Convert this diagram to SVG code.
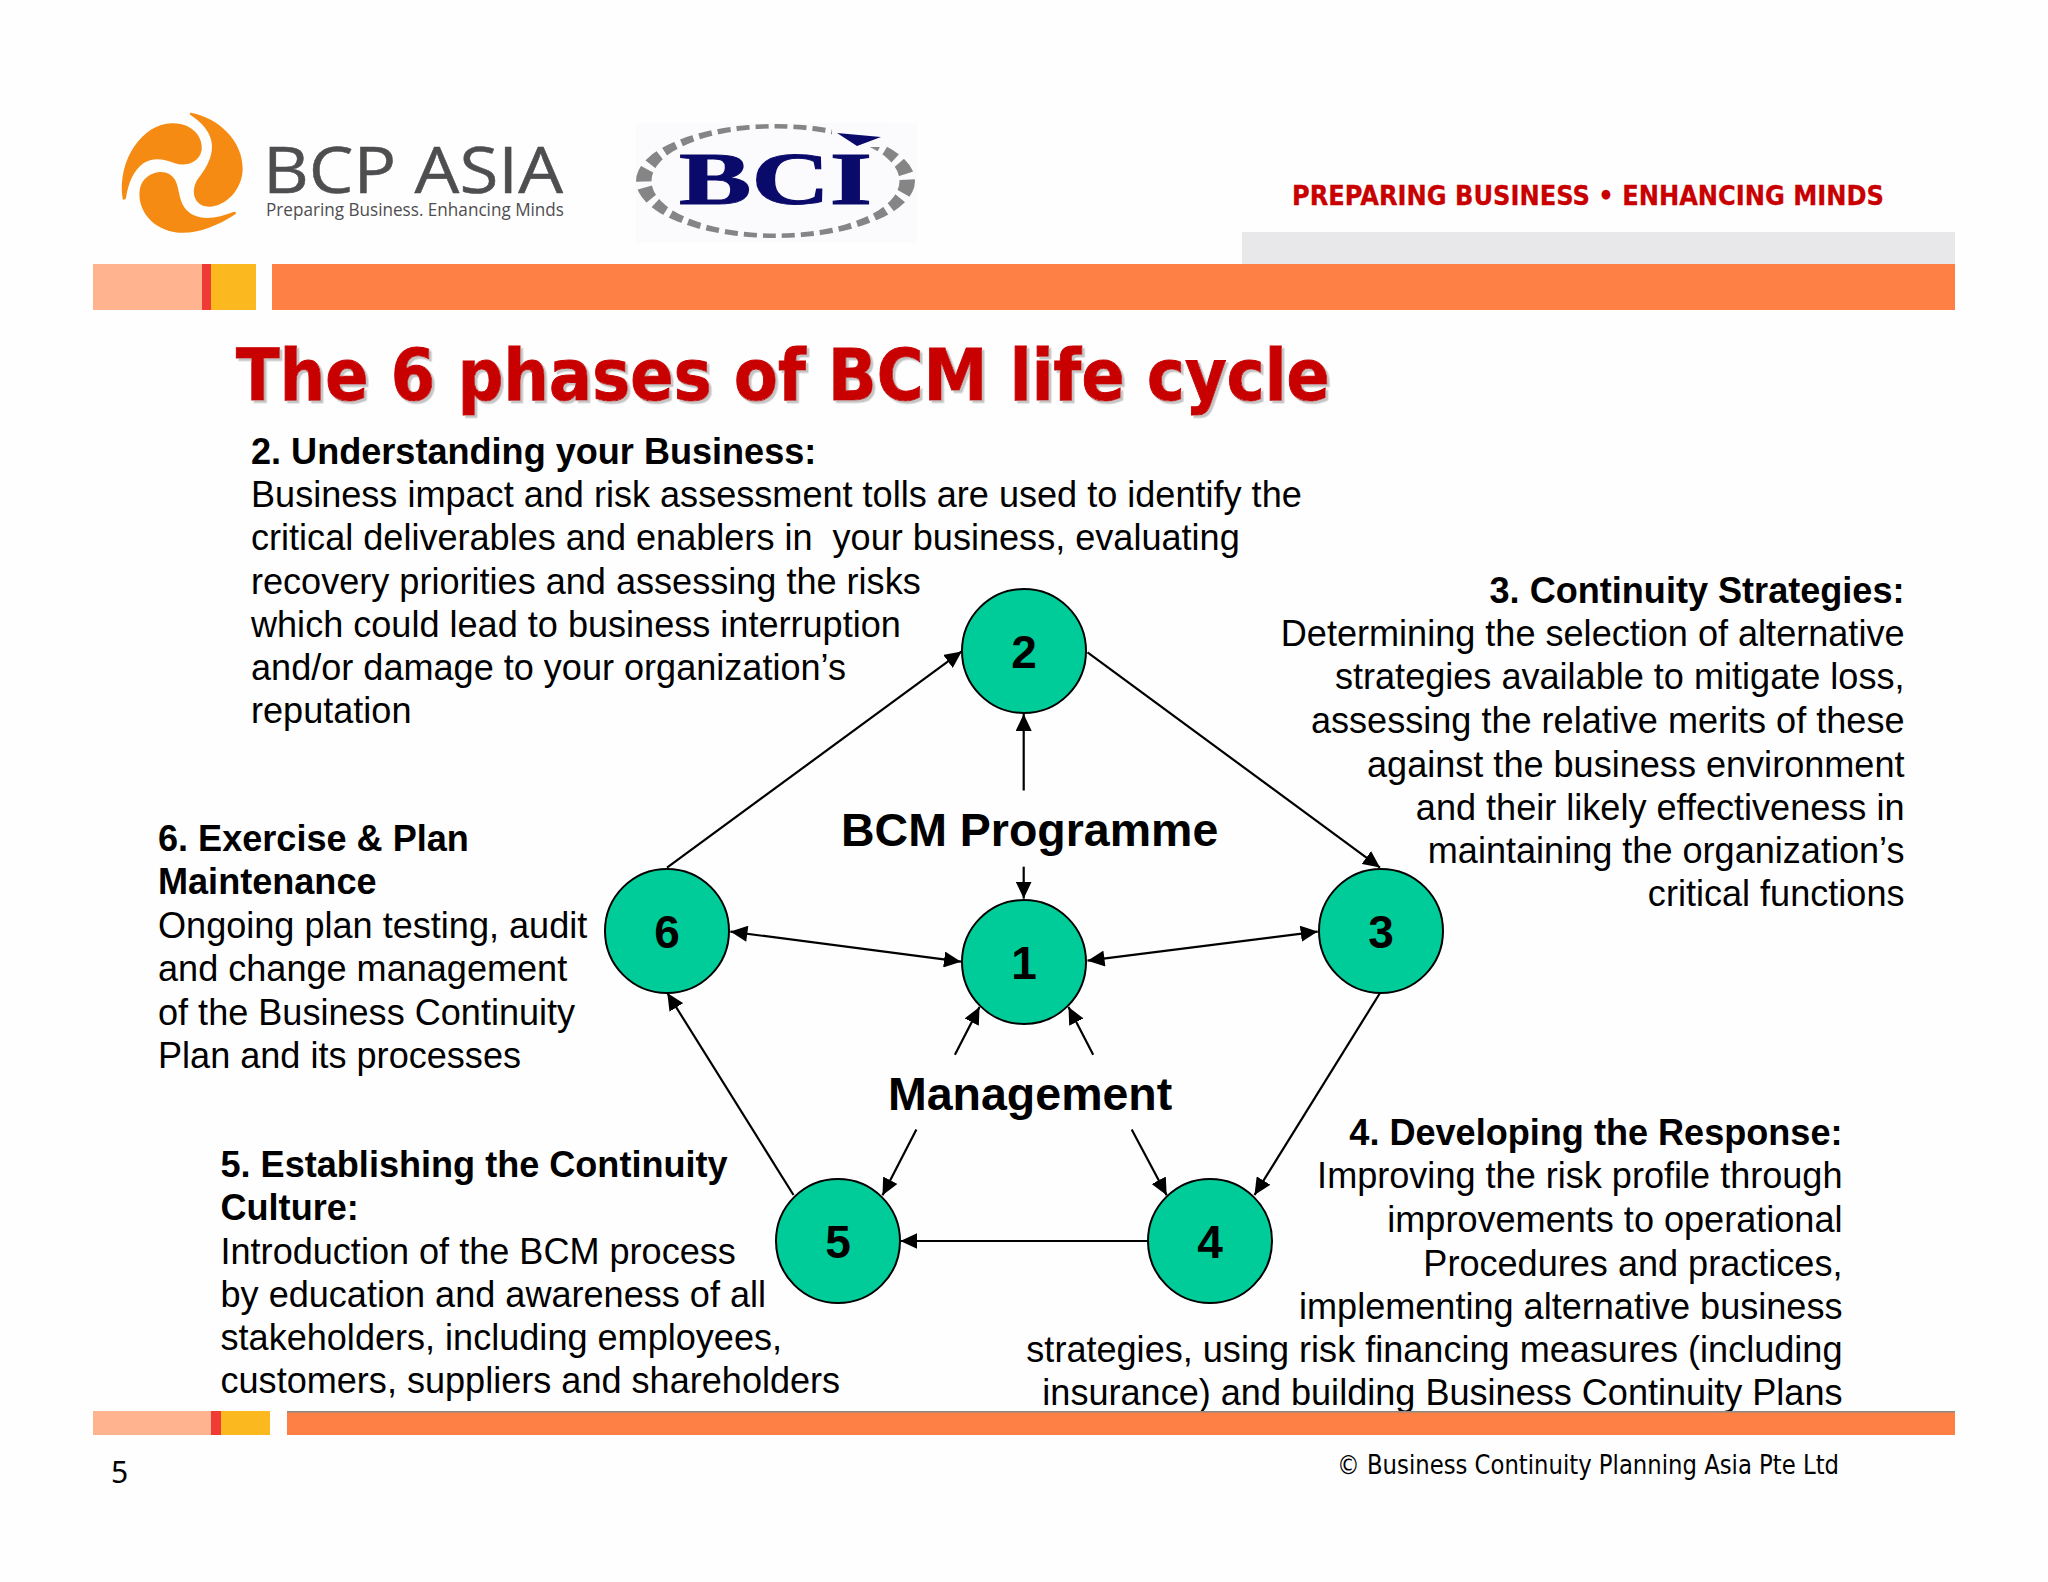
<svg xmlns="http://www.w3.org/2000/svg" width="2048" height="1582" viewBox="0 0 2048 1582">
<style>
text{font-family:"Liberation Sans",Arial,sans-serif;fill:#000}
.b{font-size:36.1px}
.h{font-size:36.1px;font-weight:700}
.r{text-anchor:end}
.n{font-size:46px;font-weight:700;text-anchor:middle}
.c{font-size:46.5px;font-weight:700}
.nd{fill:#00cc99;stroke:#000;stroke-width:2}
.k{stroke:#000;stroke-width:2.2;fill:none;marker-end:url(#a)}
.kk{stroke:#000;stroke-width:2.2;fill:none;marker-end:url(#a);marker-start:url(#s)}
.t{font-family:"DejaVu Sans",Verdana,sans-serif;font-weight:700;fill:#c80000;stroke:#c80000}
</style>
<defs>
<marker id="a" markerUnits="userSpaceOnUse" markerWidth="18" markerHeight="16" refX="17" refY="8" orient="auto"><path d="M0,0L17,8L0,16Z" fill="#000"/></marker>
<marker id="s" markerUnits="userSpaceOnUse" markerWidth="18" markerHeight="16" refX="0" refY="8" orient="auto"><path d="M17,0L0,8L17,16Z" fill="#000"/></marker>
<filter id="sh" x="-2%" y="-10%" width="104%" height="125%"><feDropShadow dx="2.5" dy="2.5" stdDeviation="0.6" flood-color="#c4c4c4" flood-opacity="1"/></filter>
<clipPath id="ring"><path clip-rule="evenodd" d="M636,181a139.500,57 0 1,0 279,0a139.500,57 0 1,0 -279,0ZM651.500,181a124,52.500 0 1,0 248,0a124,52.500 0 1,0 -248,0Z"/></clipPath>
</defs>
<rect width="2048" height="1582" fill="#fefefe"/>
<g id="bcp-logo">
<g transform="translate(110 100) scale(.33333)" fill="#f68b13">
<path d="M38,297C20,180 100,70 185,70C250,68 280,115 275,150C268,190 225,200 195,190C165,178 130,170 100,190C70,212 55,250 48,293C46,300 39,300 38,297Z"/>
<path d="M243,38C330,55 398,125 398,205C398,270 345,322 295,320C250,318 240,270 265,235C300,190 345,115 245,47C238,44 238,38 243,38Z"/>
<path d="M376,343C320,380 260,402 205,398C130,392 78,330 90,265C100,215 175,195 198,245C212,280 205,320 250,345C285,362 330,352 370,336C378,334 380,340 376,343Z"/>
</g>
<text x="263" y="192.500" font-size="64" textLength="300" lengthAdjust="spacingAndGlyphs" stroke="#4e4e50" stroke-width=".5" style="fill:#4e4e50;font-family:'Open Sans','Liberation Sans',sans-serif;font-weight:400">BCP ASIA</text>
<text x="266" y="216" font-size="18" textLength="298" lengthAdjust="spacingAndGlyphs" style="fill:#4e4e50;font-family:'Open Sans','Liberation Sans',sans-serif">Preparing Business. Enhancing Minds</text>
</g>
<g id="bci-logo">
<rect x="636" y="123" width="281" height="120" fill="#fbfbfd"/>
<g clip-path="url(#ring)"><ellipse cx="775.500" cy="181" rx="131.500" ry="54.500" fill="none" stroke="#858585" stroke-width="22" stroke-dasharray="13 6"/></g>
<path d="M832,122H892V147H832Z" fill="#fbfbfd"/>
<path d="M837,133L881,137L857,146Z" fill="#0a0a6b"/>
<text x="679" y="204" font-size="74" textLength="193" lengthAdjust="spacingAndGlyphs" stroke="#0a0a6b" stroke-width="1" style="font-family:'Liberation Serif',serif;font-weight:700;fill:#0a0a6b">BCI</text>
</g>
<text id="tagline" class="t" x="1292" y="205" font-size="26.500" stroke-width=".3" textLength="592" lengthAdjust="spacingAndGlyphs">PREPARING BUSINESS • ENHANCING MINDS</text>
<g id="header-bars">
<rect x="1242" y="232" width="713" height="32" fill="#e8e8ea"/>
<rect x="93" y="264" width="110" height="46" fill="#ffb38f"/>
<rect x="202" y="264" width="10" height="46" fill="#ef3a35"/>
<rect x="211" y="264" width="45" height="46" fill="#fbb81f"/>
<rect x="272" y="264" width="1683" height="46" fill="#ff8045"/>
</g>
<text id="title" class="t" x="236" y="400" font-size="72" stroke-width="1" textLength="1094" lengthAdjust="spacingAndGlyphs" filter="url(#sh)">The 6 phases of BCM life cycle</text>
<g id="section-2">
<text class="h" x="251" y="463.500">2. Understanding your Business:</text>
<text class="b" x="251" y="506.500">Business impact and risk assessment tolls are used to identify the</text>
<text class="b" x="251" y="550" xml:space="preserve">critical deliverables and enablers in  your business, evaluating</text>
<text class="b" x="251" y="594.400">recovery priorities and assessing the risks</text>
<text class="b" x="251" y="636.800">which could lead to business interruption</text>
<text class="b" x="251" y="680">and/or damage to your organization’s</text>
<text class="b" x="251" y="723">reputation</text>
</g>
<g id="section-3">
<text class="h r" x="1904.500" y="603.300">3. Continuity Strategies:</text>
<text class="b r" x="1904.500" y="646.300">Determining the selection of alternative</text>
<text class="b r" x="1904.500" y="689.300">strategies available to mitigate loss,</text>
<text class="b r" x="1904.500" y="733">assessing the relative merits of these</text>
<text class="b r" x="1904.500" y="777">against the business environment</text>
<text class="b r" x="1904.500" y="820.300">and their likely effectiveness in</text>
<text class="b r" x="1904.500" y="863.300">maintaining the organization’s</text>
<text class="b r" x="1904.500" y="906.300">critical functions</text>
</g>
<g id="section-6">
<text class="h" x="158" y="851.300">6. Exercise &amp; Plan</text>
<text class="h" x="158" y="894.300">Maintenance</text>
<text class="b" x="158" y="937.800">Ongoing plan testing, audit</text>
<text class="b" x="158" y="981.300">and change management</text>
<text class="b" x="158" y="1025">of the Business Continuity</text>
<text class="b" x="158" y="1068.300">Plan and its processes</text>
</g>
<g id="section-5">
<text class="h" x="220.500" y="1176.800">5. Establishing the Continuity</text>
<text class="h" x="220.500" y="1219.800">Culture:</text>
<text class="b" x="220.500" y="1264.300">Introduction of the BCM process</text>
<text class="b" x="220.500" y="1307.300">by education and awareness of all</text>
<text class="b" x="220.500" y="1350.300">stakeholders, including employees,</text>
<text class="b" x="220.500" y="1393.300">customers, suppliers and shareholders</text>
</g>
<g id="section-4">
<text class="h r" x="1842.500" y="1145.300">4. Developing the Response:</text>
<text class="b r" x="1842.500" y="1188.300">Improving the risk profile through</text>
<text class="b r" x="1842.500" y="1232">improvements to operational</text>
<text class="b r" x="1842.500" y="1276.300">Procedures and practices,</text>
<text class="b r" x="1842.500" y="1319.300">implementing alternative business</text>
<text class="b r" x="1842.500" y="1362.300">strategies, using risk financing measures (including</text>
<text class="b r" x="1842.500" y="1405.300">insurance) and building Business Continuity Plans</text>
</g>
<g id="connectors">
<path class="k" d="M667,867.600L961.700,651.400"/>
<path class="k" d="M1087.500,652.400L1380,867.600"/>
<path class="k" d="M1380,993L1254.500,1195"/>
<path class="k" d="M1148.300,1241H900.300"/>
<path class="k" d="M793.500,1195L667.300,993"/>
<path class="k" d="M1023.700,790.500V714"/>
<path class="k" d="M1023.700,866.700V898.600"/>
<path class="kk" d="M730.400,931.600L961,961.700"/>
<path class="kk" d="M1087.500,960.700L1317.700,931.600"/>
<path class="k" d="M954.900,1054.700L979.500,1007"/>
<path class="k" d="M1093.200,1054.700L1068.500,1007"/>
<path class="k" d="M916.400,1129.400L882.500,1195.300"/>
<path class="k" d="M1131.700,1129.400L1166.700,1195.300"/>
</g>
<text id="label-programme" class="c" x="841" y="845.500">BCM Programme</text>
<text id="label-management" class="c" x="888" y="1109.500">Management</text>
<g id="node-1"><circle class="nd" cx="1024" cy="962" r="62"/><text class="n" x="1024" y="979">1</text></g>
<g id="node-2"><circle class="nd" cx="1024" cy="651" r="62"/><text class="n" x="1024" y="668">2</text></g>
<g id="node-3"><circle class="nd" cx="1381" cy="931" r="62"/><text class="n" x="1381" y="948">3</text></g>
<g id="node-4"><circle class="nd" cx="1210" cy="1241" r="62"/><text class="n" x="1210" y="1258">4</text></g>
<g id="node-5"><circle class="nd" cx="838" cy="1241" r="62"/><text class="n" x="838" y="1258">5</text></g>
<g id="node-6"><circle class="nd" cx="667" cy="931" r="62"/><text class="n" x="667" y="948">6</text></g>
<g id="footer-bars">
<rect x="93" y="1411" width="119" height="24" fill="#ffb38f"/>
<rect x="211" y="1411" width="10" height="24" fill="#ef3a35"/>
<rect x="221" y="1411" width="49" height="24" fill="#fbb81f"/>
<rect x="287" y="1411" width="1668" height="24" fill="#ff8045"/>
<rect x="287" y="1411" width="1668" height="1.500" fill="#8a8a8a"/>
</g>
<text id="page-number" x="111" y="1483" font-size="30" style="font-family:'Noto Sans',sans-serif">5</text>
<text id="copyright" x="1337" y="1474" font-size="26" textLength="502" lengthAdjust="spacingAndGlyphs" style="font-family:'DejaVu Sans',sans-serif">© Business Continuity Planning Asia Pte Ltd</text>
</svg>
